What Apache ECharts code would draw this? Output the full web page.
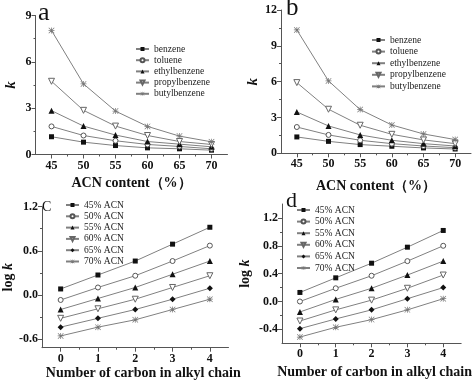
<!DOCTYPE html>
<html><head><meta charset="utf-8">
<script src="https://cdn.jsdelivr.net/npm/echarts@6/dist/echarts.min.js"></script>
<style>html,body{margin:0;padding:0;background:#fff}#c{width:474px;height:382px}</style>
</head><body><div id="c"></div>
<script>
// ---- data ----
const acn = [45, 50, 55, 60, 65, 70];
const carbons = [0, 1, 2, 3, 4];
const compounds = ['benzene', 'toluene', 'ethylbenzene', 'propylbenzene', 'butylbenzene'];
const acnNames = ['45% ACN', '50% ACN', '55% ACN', '60% ACN', '65% ACN', '70% ACN'];

// panel a: k vs ACN content
const kA_benzene = [1.15, 0.80, 0.58, 0.43, 0.37, 0.28];
const kA_toluene = [1.82, 1.23, 0.89, 0.65, 0.52, 0.37];
const kA_ethyl   = [2.84, 1.84, 1.26, 0.84, 0.67, 0.50];
const kA_propyl  = [4.74, 2.86, 1.84, 1.23, 0.84, 0.65];
const kA_butyl   = [8.03, 4.57, 2.81, 1.82, 1.19, 0.82];
// panel b
const kB_benzene = [1.37, 1.00, 0.73, 0.59, 0.45, 0.36];
const kB_toluene = [2.20, 1.54, 1.09, 0.81, 0.61, 0.47];
const kB_ethyl   = [3.46, 2.29, 1.54, 1.09, 0.81, 0.61];
const kB_propyl  = [5.92, 3.69, 2.35, 1.59, 1.12, 0.81];
const kB_butyl   = [10.33, 6.06, 3.66, 2.37, 1.62, 1.15];
// panel c: log k vs carbon number
const logC_45 = [0.08, 0.27, 0.46, 0.69, 0.92];
const logC_50 = [-0.07, 0.10, 0.26, 0.46, 0.67];
const logC_55 = [-0.20, -0.05, 0.10, 0.28, 0.46];
const logC_60 = [-0.32, -0.19, -0.06, 0.10, 0.26];
const logC_65 = [-0.44, -0.32, -0.20, -0.06, 0.09];
const logC_70 = [-0.56, -0.44, -0.34, -0.20, -0.06];
// panel d
const logD_45 = [0.13, 0.34, 0.55, 0.78, 1.02];
const logD_50 = [0.00, 0.19, 0.37, 0.58, 0.80];
const logD_55 = [-0.15, 0.03, 0.19, 0.38, 0.58];
const logD_60 = [-0.28, -0.12, 0.02, 0.19, 0.38];
const logD_65 = [-0.39, -0.25, -0.12, 0.04, 0.20];
const logD_70 = [-0.51, -0.37, -0.26, -0.12, 0.04];

// tick values
const acnTicks = [45, 50, 55, 60, 65, 70];
const acnMinor = [47.5, 52.5, 57.5, 62.5, 67.5];
const carbonTicks = [0, 1, 2, 3, 4];
const carbonMinor = [0.5, 1.5, 2.5, 3.5];
const kATicks = [0, 3, 6, 9];
const kAMinor = [1.5, 4.5, 7.5];
const kBTicks = [0, 3, 6, 9, 12];
const kBMinor = [1.5, 4.5, 7.5, 10.5];
const logCTicks = [-0.6, 0, 0.6, 1.2];
const logCMinor = [-0.3, 0.3, 0.9];
const logDTicks = [-0.4, 0, 0.4, 0.8, 1.2];
const logDMinor = [-0.2, 0.2, 0.6, 1.0];

// ---- styles ----
const SERIF = '"Liberation Serif", "Times New Roman", serif';
const LINE = '#808080';
const AXIS = '#555';
const ASTER = 'path://M4.4,0H5.6V4.4H10V5.6H5.6V10H4.4V5.6H0V4.4H4.4Z M0.8,0L10,9.2L9.2,10L0,0.8Z M9.2,0L10,0.8L0.8,10L0,9.2Z';
const markerStyles = [
  {symbol: 'rect', symbolSize: 5, itemStyle: {color: '#111'}},
  {symbol: 'circle', symbolSize: 5, itemStyle: {color: '#fff', borderColor: '#555', borderWidth: 1}},
  {symbol: 'triangle', symbolSize: 6, itemStyle: {color: '#111'}},
  {symbol: 'triangle', symbolRotate: 180, symbolSize: 6, itemStyle: {color: '#fff', borderColor: '#666', borderWidth: 1}},
  {symbol: 'diamond', symbolSize: 6, itemStyle: {color: '#111'}},
  {symbol: ASTER, symbolSize: 6, itemStyle: {color: '#777'}}
];
const butylStyle = markerStyles[5];

function mkSeries(name, xs, ys, gi, style) {
  return Object.assign({
    type: 'line', name: name, xAxisIndex: gi * 2, yAxisIndex: gi * 2,
    data: xs.map((x, i) => [x, ys[i]]),
    lineStyle: {color: LINE, width: 1}, showSymbol: true, animation: false,
    emphasis: {disabled: true}
  }, style);
}

function mainAxis(pos, gi, min, max, ticks, fmt, extra) {
  return Object.assign({
    type: 'value', gridIndex: gi, min: min, max: max, position: pos,
    splitLine: {show: false},
    axisLine: {show: true, onZero: false, lineStyle: {color: AXIS, width: 1}},
    axisTick: {show: true, inside: false, length: 4, lineStyle: {color: AXIS}, customValues: ticks},
    axisLabel: {customValues: ticks, formatter: fmt, fontFamily: SERIF, fontWeight: 'bold', fontSize: 12, color: '#111', margin: 4},
    nameTextStyle: {fontFamily: SERIF, fontWeight: 'bold', fontSize: 14, color: '#111'}
  }, extra);
}
function minorAxis(pos, gi, min, max, ticks) {
  return {
    type: 'value', gridIndex: gi, min: min, max: max, position: pos, offset: 0,
    splitLine: {show: false}, axisLine: {show: false, onZero: false},
    axisTick: {show: true, inside: false, length: 2, lineStyle: {color: AXIS}, customValues: ticks},
    axisLabel: {show: false}
  };
}

const grids = [
  {left: 35.5, top: 15.5, width: 192, height: 139},
  {left: 281, top: 10, width: 190, height: 143.3},
  {left: 39, top: 206.7, width: 189.5, height: 141},
  {left: 282, top: 204, width: 189.5, height: 139.3}
];

const fmtInt = v => String(v);
const fmt1 = v => (Math.abs(v) < 1e-9 ? 0 : v).toFixed(1);
const xLabel = ticks => ({customValues: ticks, fontFamily: SERIF, fontWeight: 'bold', fontSize: 12, color: '#111', margin: 5});
const carbonName = {fontFamily: SERIF, fontWeight: 'bold', fontSize: 14, color: '#111'};

const xAxes = [];
const yAxes = [];
// panel a
xAxes.push(mainAxis('bottom', 0, 42.5, 72.5, acnTicks, fmtInt, {name: 'ACN content（%）', nameLocation: 'middle', nameGap: 22, axisLabel: xLabel(acnTicks)}));
xAxes.push(minorAxis('bottom', 0, 42.5, 72.5, acnMinor));
yAxes.push(mainAxis('left', 0, 0, 9, kATicks, fmtInt, {name: 'k', nameLocation: 'middle', nameGap: 17, nameRotate: 90, nameTextStyle: {fontFamily: SERIF, fontWeight: 'bold', fontStyle: 'italic', fontSize: 15, color: '#111'}}));
yAxes.push(minorAxis('left', 0, 0, 9, kAMinor));
// panel b
xAxes.push(mainAxis('bottom', 1, 42.5, 72.5, acnTicks, fmtInt, {name: 'ACN content（%）', nameLocation: 'middle', nameGap: 26, axisLabel: xLabel(acnTicks)}));
xAxes.push(minorAxis('bottom', 1, 42.5, 72.5, acnMinor));
yAxes.push(mainAxis('left', 1, 0, 12, kBTicks, fmtInt, {name: 'k', nameLocation: 'middle', nameGap: 19, nameRotate: 90, nameTextStyle: {fontFamily: SERIF, fontWeight: 'bold', fontStyle: 'italic', fontSize: 15, color: '#111'}}));
yAxes.push(minorAxis('left', 1, 0, 12, kBMinor));
// panel c
const logName = {name: '{b|log }{i|k}', nameLocation: 'middle', nameGap: 27, nameRotate: 90,
  nameTextStyle: {rich: {b: {fontFamily: SERIF, fontWeight: 'bold', fontSize: 14, color: '#111'}, i: {fontFamily: SERIF, fontWeight: 'bold', fontStyle: 'italic', fontSize: 14, color: '#111'}}}};
xAxes.push(mainAxis('bottom', 2, -0.5, 4.5, carbonTicks, fmtInt, {name: 'Number of carbon in alkyl chain', nameLocation: 'middle', nameGap: 19, axisLabel: xLabel(carbonTicks), nameTextStyle: Object.assign({padding: [0, 0, 0, 16]}, carbonName)}));
xAxes.push(minorAxis('bottom', 2, -0.5, 4.5, carbonMinor));
yAxes.push(mainAxis('left', 2, -0.72, 1.2, logCTicks, fmt1, logName));
yAxes.push(minorAxis('left', 2, -0.72, 1.2, logCMinor));
// panel d
xAxes.push(mainAxis('bottom', 3, -0.5, 4.5, carbonTicks, fmtInt, {name: 'Number of carbon in alkyl chain', nameLocation: 'middle', nameGap: 22, axisLabel: xLabel(carbonTicks), nameTextStyle: Object.assign({padding: [0, 0, 0, 6]}, carbonName)}));
xAxes.push(minorAxis('bottom', 3, -0.5, 4.5, carbonMinor));
yAxes.push(mainAxis('left', 3, -0.6, 1.4, logDTicks, fmt1, Object.assign({}, logName, {nameGap: 30})));
yAxes.push(minorAxis('left', 3, -0.6, 1.4, logDMinor));

const series = [];
const aSets = [kA_benzene, kA_toluene, kA_ethyl, kA_propyl, kA_butyl];
const bSets = [kB_benzene, kB_toluene, kB_ethyl, kB_propyl, kB_butyl];
const aStyles = [markerStyles[0], markerStyles[1], markerStyles[2], markerStyles[3], butylStyle];
compounds.forEach((n, i) => series.push(mkSeries(n, acn, aSets[i], 0, aStyles[i])));
compounds.forEach((n, i) => series.push(mkSeries(n, acn, bSets[i], 1, aStyles[i])));
const cSets = [logC_45, logC_50, logC_55, logC_60, logC_65, logC_70];
const dSets = [logD_45, logD_50, logD_55, logD_60, logD_65, logD_70];
acnNames.forEach((n, i) => series.push(mkSeries(n, carbons, cSets[i], 2, markerStyles[i])));
acnNames.forEach((n, i) => series.push(mkSeries(n, carbons, dSets[i], 3, markerStyles[i])));

function mkLegend(names, left, top, gap) {
  return {
    data: names, orient: 'vertical', left: left, top: top,
    itemWidth: 13, itemHeight: 5, itemGap: gap - 10, padding: 0,
    selectedMode: false,
    textStyle: {fontFamily: SERIF, fontSize: 9.5, lineHeight: 10, color: '#222'}
  };
}

const option = {
  animation: false,
  grid: grids,
  xAxis: xAxes,
  yAxis: yAxes,
  series: series,
  legend: [
    mkLegend(compounds, 135, 44, 11.2),
    mkLegend(compounds, 371, 35, 11.6),
    mkLegend(acnNames, 65, 200, 11.3),
    mkLegend(acnNames, 296, 205, 11.6)
  ],
  graphic: [
    {type: 'text', left: 38, top: 0, style: {text: 'a', font: '26px ' + SERIF, fill: '#111'}},
    {type: 'text', left: 286, top: -4, style: {text: 'b', font: '25px ' + SERIF, fill: '#111'}},
    {type: 'text', left: 42, top: 200, style: {text: 'C', font: '14px ' + SERIF, fill: '#111'}},
    {type: 'text', left: 286, top: 190, style: {text: 'd', font: '22px ' + SERIF, fill: '#111'}}
  ]
};
const chart = echarts.init(document.getElementById('c'), null, {renderer: 'canvas'});
chart.setOption(option);
</script></body></html>
